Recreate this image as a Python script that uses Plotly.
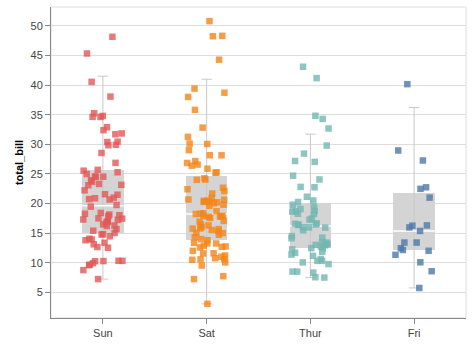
import numpy as np
import plotly.graph_objects as go

days = ["Sun", "Sat", "Thur", "Fri"]
colors = ["#e45756", "#f58518", "#72b7b2", "#4c78a8"]

sun = [16.99, 10.34, 21.01, 23.68, 24.59, 25.29, 8.77, 26.88, 15.04, 14.78, 10.27, 35.26, 15.42, 18.43,
       14.83, 21.58, 10.33, 16.29, 16.97, 17.46, 13.94, 9.68, 30.40, 18.29, 22.23, 32.40, 28.55, 18.04,
       12.54, 10.29, 34.81, 9.94, 25.56, 19.49, 38.07, 23.95, 25.71, 17.31, 29.93, 14.07, 13.13, 17.26,
       24.55, 19.77, 29.85, 48.17, 25.00, 13.39, 16.49, 21.50, 12.66, 16.21, 13.81, 17.51, 24.52, 20.76,
       31.71, 7.25, 31.85, 16.82, 32.90, 17.89, 14.48, 9.60, 34.63, 34.65, 23.33, 45.35, 23.17, 40.55,
       20.69, 20.90, 30.46, 18.15, 23.10, 15.69]
sat = [20.65, 17.92, 20.29, 15.77, 39.42, 19.82, 17.81, 13.37, 12.69, 21.70, 19.65, 9.55, 18.35, 15.06,
       20.69, 17.78, 24.06, 16.31, 16.93, 18.69, 31.27, 16.04, 38.01, 26.41, 11.24, 48.27, 20.29, 13.81,
       11.02, 18.29, 17.59, 20.08, 16.45, 3.07, 20.23, 15.01, 12.02, 17.07, 26.86, 25.28, 14.73, 10.51,
       17.92, 44.30, 22.42, 20.92, 15.36, 20.49, 25.21, 18.24, 14.31, 14.00, 7.25, 10.59, 10.63, 50.81,
       15.81, 26.59, 38.73, 24.27, 12.76, 30.06, 25.89, 48.33, 13.27, 28.17, 12.90, 28.15, 11.59, 7.74,
       30.14, 20.45, 13.28, 22.12, 24.01, 15.69, 11.61, 10.77, 15.53, 10.07, 12.60, 32.83, 35.83, 29.03,
       27.18, 22.67, 17.82]
thur = [27.20, 22.76, 17.29, 19.44, 16.66, 10.07, 32.68, 15.98, 34.83, 13.03, 18.28, 24.71, 21.16,
        10.65, 12.43, 24.08, 11.69, 13.42, 14.26, 15.95, 12.48, 29.80, 8.52, 14.52, 11.38, 22.82, 19.08,
        20.27, 11.17, 12.26, 18.26, 8.51, 10.33, 14.15, 16.00, 13.16, 17.47, 34.30, 41.19, 27.05, 16.43,
        8.35, 18.64, 11.87, 9.78, 7.51, 19.81, 28.44, 15.48, 16.58, 7.56, 10.34, 43.11, 13.00, 13.51,
        18.71, 12.74, 13.00, 16.40, 20.53, 16.47, 18.78]
fri = [28.97, 22.49, 5.75, 16.32, 22.75, 40.17, 27.28, 12.03, 21.01, 12.46, 11.35, 15.38, 12.16, 13.42,
       8.58, 15.98, 13.42, 16.27, 10.09]

y_ticks = [5, 10, 15, 20, 25, 30, 35, 40, 45, 50]

series = [sun, sat, thur, fri]
fig = go.Figure()

# box statistics
q1s, meds, q3s, lows, highs = [], [], [], [], []
for vals in series:
    v = np.array(vals)
    q1, med, q3 = np.percentile(v, [25, 50, 75])
    iqr = q3 - q1
    q1s.append(q1); meds.append(med); q3s.append(q3)
    lows.append(max(v.min(), q1 - 1.5 * iqr))
    highs.append(min(v.max(), q3 + 1.5 * iqr))

xs = list(range(len(days)))
wx, wy = [], []
cap = 0.05
for i in xs:
    wx += [i, i, None, i - cap, i + cap, None, i - cap, i + cap, None]
    wy += [lows[i], highs[i], None, lows[i], lows[i], None, highs[i], highs[i], None]
fig.add_trace(go.Scatter(x=wx, y=wy, mode="lines", line=dict(color="#c8c8c8", width=1),
                         hoverinfo="skip", showlegend=False))

fig.add_trace(go.Bar(x=xs, base=q1s, y=[b - a for a, b in zip(q1s, q3s)], width=0.4,
                     marker=dict(color="#d4d4d4", line=dict(width=0)), showlegend=False))

mx, my = [], []
for i in xs:
    mx += [i - 0.2, i + 0.2, None]
    my += [meds[i], meds[i], None]
fig.add_trace(go.Scatter(x=mx, y=my, mode="lines", line=dict(color="white", width=1.5),
                         hoverinfo="skip", showlegend=False))

rng = np.random.default_rng(7)
for i, (vals, c) in enumerate(zip(series, colors)):
    jit = rng.uniform(-0.19, 0.19, len(vals))
    fig.add_trace(go.Scatter(x=i + jit, y=vals, mode="markers",
                             marker=dict(symbol="square", size=6.5, color=c, opacity=0.8,
                                         line=dict(width=0)),
                             name=days[i], showlegend=False))

fig.update_layout(
    width=474, height=356,
    margin=dict(l=51, r=8, t=7, b=38, pad=0, autoexpand=False),
    plot_bgcolor="white", paper_bgcolor="white",
    font=dict(family="Liberation Sans, Arial, sans-serif", size=10, color="#444"),
    bargap=0,
    shapes=[dict(type="rect", xref="paper", yref="paper", x0=0, y0=0, x1=1, y1=1,
                 line=dict(color="#dddddd", width=1), layer="below")],
)
fig.update_xaxes(range=[-0.5, 3.5], tickmode="array", tickvals=xs, ticktext=days, automargin=False,
                 showgrid=False, zeroline=False, showline=True, linecolor="#888", linewidth=1,
                 ticks="outside", ticklen=5, tickcolor="#888", tickfont=dict(size=11))
fig.update_yaxes(range=[0.68, 53.2], tickmode="array", tickvals=y_ticks, automargin=False,
                 showgrid=True, gridcolor="#dddddd", gridwidth=1, zeroline=False,
                 showline=True, linecolor="#888", linewidth=1,
                 ticks="outside", ticklen=5, tickcolor="#888", tickfont=dict(size=11),
                 title=dict(text="<b>total_bill</b>", font=dict(size=11, color="#000"), standoff=4))

fig.write_html("out.html", config={"displayModeBar": False},
               post_script="document.body.style.margin='0';")
